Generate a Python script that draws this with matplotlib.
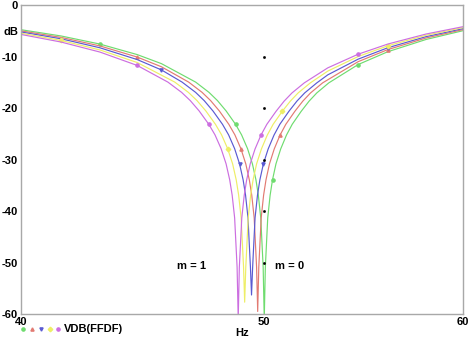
import numpy as np
import matplotlib
matplotlib.use('Agg')
import matplotlib.pyplot as plt
from matplotlib.lines import Line2D

plt.rcParams['font.family'] = ['Liberation Sans', 'DejaVu Sans']

# 凹口形状 (读图估计, dB), 各曲线相同
notch_left = [-14.9, -16.9, -18.5, -20.5, -23.1, -25.15, -27.85, -30.8, -33.9, -36.9, -41.3, -50.9]
notch_right = [-50.9, -41.3, -36.9, -33.9, -30.8, -27.9, -25.2, -23.1, -20.6, -18.6, -17.0, -15.05]

# m: 品红, y: 黄, b: 蓝, r: 红, g: 绿
freq_m = [40, 41.5, 43, 44.5, 45.77, 46.35, 46.72, 47.10, 47.52, 47.79, 48.06, 48.28, 48.44,
          48.55, 48.66, 48.77, 48.82, 48.87, 48.98, 49.09, 49.20, 49.36, 49.58, 49.85, 50.12,
          50.54, 50.92, 51.29, 51.87, 53, 54.5, 56, 58, 60]
db_m = [-5.63, -7.11, -9.05, -11.66] + notch_left + [-61] + notch_right + [-12.13, -9.47, -7.50, -5.55, -4.12]

freq_y = [40, 41.5, 43, 44.5, 46.06, 46.64, 47.01, 47.39, 47.81, 48.08, 48.35, 48.57, 48.73,
          48.84, 48.95, 49.06, 49.11, 49.16, 49.27, 49.38, 49.49, 49.65, 49.87, 50.14, 50.41,
          50.83, 51.21, 51.58, 52.16, 53, 54.5, 56, 58, 60]
db_y = [-5.39, -6.80, -8.64, -11.09] + notch_left + [-57.7] + notch_right + [-12.76, -9.92, -7.84, -5.79, -4.30]

freq_b = [40, 41.5, 43, 44.5, 45.5, 46.37, 46.95, 47.32, 47.70, 48.12, 48.39, 48.66, 48.88,
          49.04, 49.15, 49.26, 49.37, 49.42, 49.47, 49.58, 49.69, 49.80, 49.96, 50.18, 50.45,
          50.72, 51.14, 51.52, 51.89, 52.47, 53, 54.5, 56, 58, 60]
db_b = [-5.14, -6.48, -8.22, -10.52, -12.53] + notch_left + [-56.3] + notch_right + [-13.49, -10.43, -8.22, -6.06, -4.50]

freq_r = [40, 41.5, 43, 44.5, 45.5, 46.65, 47.23, 47.60, 47.98, 48.40, 48.67, 48.94, 49.16,
          49.32, 49.43, 49.54, 49.65, 49.70, 49.75, 49.86, 49.97, 50.08, 50.24, 50.46, 50.73,
          51.00, 51.42, 51.80, 52.17, 52.75, 54.5, 56, 58, 60]
db_r = [-4.93, -6.21, -7.86, -10.03, -11.92] + notch_left + [-59.5] + notch_right + [-10.92, -8.58, -6.32, -4.69]

freq_g = [40, 41.5, 43, 44.5, 45.5, 46.95, 47.53, 47.90, 48.28, 48.70, 48.97, 49.24, 49.46,
          49.62, 49.73, 49.84, 49.95, 50.0, 50.05, 50.16, 50.27, 50.38, 50.54, 50.76, 51.03,
          51.30, 51.72, 52.10, 52.47, 53.05, 54.5, 56, 58, 60]
db_g = [-4.71, -5.93, -7.50, -9.55, -11.31] + notch_left + [-61] + notch_right + [-11.48, -8.99, -6.61, -4.90]

dot_db = [-10, -20, -30, -40, -50]
yticks = [0, -10, -20, -30, -40, -50, -60]
xticks = [40, 50, 60]

fig = plt.figure(figsize=(4.74, 3.43), dpi=100)
ax = fig.add_axes([0.0443, 0.0845, 0.9325, 0.8995])

curves = [
    (freq_g, db_g, '#6fdc6f', 'o', [2, 9, 21, 30]),
    (freq_r, db_r, '#e27a72', '^', [3, 11, 24, 31]),
    (freq_b, db_b, '#5a5ad2', 'v', [4, 12, 22, 32]),
    (freq_y, db_y, '#eeee66', 'D', [1, 10, 25, 31]),
    (freq_m, db_m, '#cc6ee0', 'o', [3, 8, 23, 30]),
]
for fx, fy, c, mk, me in curves:
    ax.plot(fx, fy, color=c, lw=0.85, marker=mk, ms=2.3, markevery=me,
            mfc=c, mec=c)

ax.plot([50] * len(dot_db), dot_db, ls='none', marker='s', ms=0.9, color='black')

ax.set_xscale('log')
ax.set_xlim(40, 60)
ax.set_ylim(-60, 0)
ax.minorticks_off()
ax.set_xticks(xticks)
ax.set_xticklabels([str(v) for v in xticks], fontsize=8, fontweight='bold')
ax.set_yticks(yticks)
ax.set_yticklabels([str(v) for v in yticks], fontsize=8, fontweight='bold')
ax.tick_params(length=0, pad=2)
ax.xaxis.set_minor_formatter(plt.NullFormatter())
for s in ax.spines.values():
    s.set_color('#a8a8a8')
    s.set_linewidth(1)
ax.set_xlabel('Hz', fontsize=8, fontweight='bold', labelpad=1)

ax.text(46.76, -50.7, 'm = 1', fontsize=8, fontweight='bold', ha='center', va='center')
ax.text(51.16, -50.7, 'm = 0', fontsize=8, fontweight='bold', ha='center', va='center')
fig.text(0.008, 1 - 32 / 343, 'dB', fontsize=8, fontweight='bold', ha='left', va='center')

# 图例
lx = [23, 32, 41, 50, 58]
for (fx, fy, c, mk, me), x in zip(curves, lx):
    fig.add_artist(Line2D([x / 474], [1 - 329 / 343], marker=mk, ms=2.3, color=c, ls='none'))
fig.text(64 / 474, 1 - 329 / 343, 'VDB(FFDF)', fontsize=8, fontweight='bold',
         ha='left', va='center')

fig.savefig('out.png', dpi=100)
